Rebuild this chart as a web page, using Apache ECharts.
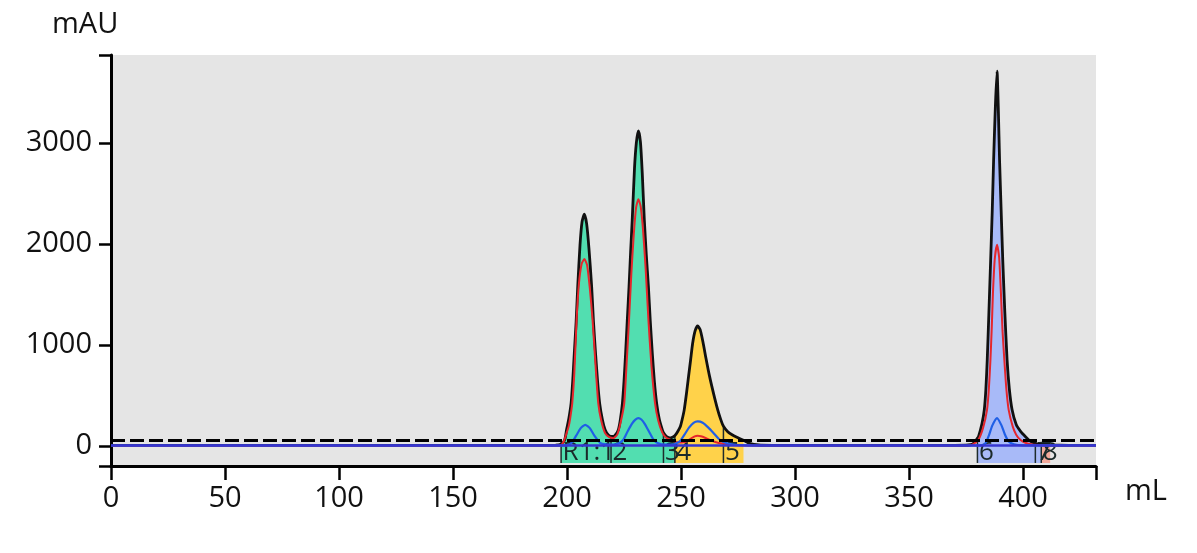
<!DOCTYPE html>
<html><head><meta charset="utf-8">
<script src="https://cdn.jsdelivr.net/npm/echarts@6/dist/echarts.min.js"></script>
<style>html,body{margin:0;padding:0;background:#fff}#c{width:1197px;height:553px}</style>
</head><body><div id="c"></div>
<script>
// ---------- DATA ----------
// UV trace 1 (black): [volume mL, absorbance mAU]
const uvBlack = [[0,5],[100,5],[180,5],[195,6],[197.4,15],[199,60],[199.8,158],[200.8,270],[201.8,423],[202.5,640],[203.2,918],[204,1230],[204.7,1577],[205.7,1990],[206.6,2220],[207.6,2294],[208.6,2200],[209.6,1960],[210.8,1577],[211.6,1230],[212.5,918],[213.4,640],[214.3,423],[215.5,260],[216.7,158],[218,110],[219.3,92],[220.3,92],[221.3,110],[222.5,158],[223.4,260],[224.3,423],[225,640],[225.7,918],[226.4,1230],[227.2,1577],[227.9,1920],[228.6,2238],[229.6,2750],[230.4,3000],[231.3,3119],[232.2,3010],[233,2700],[233.9,2238],[234.8,1880],[235.7,1577],[236.5,1240],[237.4,918],[238.3,640],[239.3,423],[240.5,260],[241.8,158],[242.3,130],[243.5,95],[244.5,82],[245.5,78],[246.5,88],[247.3,100],[248.5,140],[249.7,191],[250.5,260],[251.4,356],[252.4,520],[253.3,686],[254.2,850],[255.1,1016],[256.2,1140],[257.3,1188],[258.4,1150],[259.6,1030],[261,860],[262.5,690],[264.3,515],[266.1,356],[267.4,262],[268.6,195],[270.5,140],[272.4,109],[274.5,85],[277.4,55],[280,25],[284,8],[290,5],[370,5],[376,8],[378,20],[380,75],[380.5,92],[382,220],[383,356],[383.7,560],[384.3,851],[385,1300],[385.8,1842],[386.5,2330],[387.1,2832],[387.9,3380],[388.6,3710],[389.2,3300],[389.7,2832],[390.4,2330],[391.1,1842],[392,1330],[393,851],[394,560],[395.2,356],[397,210],[399,140],[401,92],[403,50],[405.4,25],[408,12],[411.9,7],[420,5],[432,5]];
// UV trace 2 (red)
const uvRed = [[0,0],[180,0],[197,2],[198.5,40],[199.8,125],[200.8,200],[201.5,290],[202.3,423],[203.2,720],[204.2,1248],[205.2,1600],[206.4,1800],[207.6,1849],[208.8,1790],[210,1560],[211.2,1248],[212.5,800],[213.7,423],[215,250],[216.7,125],[218.5,85],[220.3,76],[222,110],[223.5,230],[225.1,423],[226.1,800],[227.2,1248],[228.2,1700],[229.3,2100],[230.3,2360],[231.3,2442],[232.3,2370],[233.3,2150],[234.5,1750],[235.7,1248],[237,800],[238.6,423],[240,250],[241.8,130],[243.5,80],[245.2,62],[247,45],[249,32],[251,35],[252.6,45],[254.5,75],[256,94],[257.3,99],[258.7,94],[260.5,80],[263,55],[265,38],[268,22],[272,10],[278,3],[290,0],[370,0],[376,3],[378,15],[380.4,59],[382.5,180],[384.2,356],[385,560],[385.7,851],[386.3,1180],[386.8,1512],[387.6,1850],[388.6,1990],[389.5,1870],[390.3,1512],[391,1140],[391.8,851],[392.7,560],[393.7,356],[395.5,190],[397,110],[398.8,59],[401,30],[404,12],[408,5],[412,2],[432,0]];
// UV trace 3 (blue)
const uvBlue = [[0,3],[195,3],[200,6],[202,30],[204,100],[206,175],[208,208],[210,175],[212,100],[214.5,30],[217,14],[220,12],[222.5,22],[224.7,60],[226.5,140],[228.5,220],[230,260],[231.3,274],[232.6,260],[234,220],[236,140],[238,60],[240,25],[243,12],[246,12],[248,25],[249.7,50],[251.5,110],[253.5,180],[255.5,228],[257.3,241],[259.5,228],[262,180],[264.5,120],[266.5,70],[268,45],[271,20],[275,8],[290,3],[380,3],[382,8],[383.5,25],[385,100],[386.5,200],[388.6,275],[390.5,205],[392,115],[393.6,45],[396,15],[400,5],[432,3]];
// flat traces
const baseTrace = [[0,3],[432,3]];
const thresholdTrace = [[0,52],[432,52]];
// fractions
const fracStart = [197.4, 219.3, 242.3, 247.3, 268.6, 380, 405.4, 408];
const fracLabel = ['R1:1', '2', '3', '4', '5', '6', '7', '8'];
// pooled fraction ranges (fill)
const poolStart = [197.4, 247.3, 380, 408];
const poolEnd = [247.3, 277.4, 408, 411.9];
// axis ticks
const xTickStep = 50;
const yTickStep = 1000;
const xRange = [0, 432];
const yRange = [-200, 3870];

// ---------- STYLE ----------
const FONT = '"Open Sans","Noto Sans",sans-serif';
const poolColor = ['#52deb0', '#ffd24a', '#a8baf8', '#f2a89a'];
const STRIP_BASE = -170;
const SMOOTH = 0.2;

function curveAt(x) {
  for (let i = 1; i < uvBlack.length; i++) {
    const a = uvBlack[i - 1], b = uvBlack[i];
    if (x <= b[0]) { const t = (x - a[0]) / (b[0] - a[0]); return a[1] + t * (b[1] - a[1]); }
  }
  return 0;
}

const series = [];
poolStart.forEach((s, i) => {
  series.push({
    type: 'line', z: 1, silent: true, smooth: SMOOTH, showSymbol: false,
    data: uvBlack.filter(p => p[0] >= s && p[0] <= poolEnd[i]),
    lineStyle: { width: 0 },
    areaStyle: { color: poolColor[i], opacity: 1, origin: STRIP_BASE }
  });
});
series.push({
  type: 'custom', z: 3, coordinateSystem: 'cartesian2d', silent: true,
  data: fracStart.map((v, i) => [v, i]),
  encode: { x: 0, y: 1 },
  renderItem: (params, api) => {
    const v = api.value(0);
    const p0 = api.coord([v, STRIP_BASE]);
    const p1 = api.coord([v, Math.max(curveAt(v), 40)]);
    return { type: 'group', children: [
      { type: 'line', shape: { x1: p0[0], y1: p0[1], x2: p1[0], y2: p1[1] }, style: { stroke: '#1e2c2c', lineWidth: 1.5 } },
      { type: 'text', x: p0[0] + 1.5, y: p0[1] - 10, style: { text: fracLabel[params.dataIndex], font: '26px ' + FONT, fill: '#1b2a2a', align: 'left', verticalAlign: 'middle' } }
    ] };
  }
});
series.push({ type: 'line', z: 6, data: uvBlack, smooth: SMOOTH, showSymbol: false, lineStyle: { color: '#111', width: 2.8 } });
series.push({ type: 'line', z: 7, data: uvRed, smooth: SMOOTH, showSymbol: false, lineStyle: { color: '#e5262c', width: 2 } });
series.push({ type: 'line', z: 8, data: uvBlue, smooth: SMOOTH, showSymbol: false, lineStyle: { color: '#1f5fe6', width: 2.2 } });
series.push({ type: 'line', z: 9, data: baseTrace, showSymbol: false, lineStyle: { color: '#3636d2', width: 2.5 } });
series.push({ type: 'line', z: 10, data: thresholdTrace, showSymbol: false, lineStyle: { color: '#000', width: 3, type: [14, 5] } });

const chart = echarts.init(document.getElementById('c'), null, { renderer: 'canvas' });
chart.setOption({
  animation: false,
  backgroundColor: '#fff',
  grid: { left: 111, right: 101, top: 55, bottom: 87, show: true, backgroundColor: '#e5e5e5', borderWidth: 0 },
  xAxis: {
    type: 'value', min: xRange[0], max: xRange[1], interval: xTickStep,
    axisLine: { show: true, onZero: false, lineStyle: { color: '#000', width: 3 } },
    axisTick: { show: true, length: 14, lineStyle: { color: '#000', width: 2.5 } },
    axisLabel: { margin: 18, fontSize: 29, fontFamily: FONT, color: '#111', formatter: v => (v % xTickStep === 0 ? String(v) : '') },
    splitLine: { show: false }
  },
  yAxis: {
    type: 'value', min: yRange[0], max: yRange[1], splitNumber: 4,
    axisLine: { show: true, onZero: false, lineStyle: { color: '#000', width: 3 } },
    axisTick: { show: true, length: 12, lineStyle: { color: '#000', width: 2.5 } },
    axisLabel: { margin: 19, fontSize: 29, fontFamily: FONT, color: '#111', formatter: v => (v >= 0 && v % yTickStep === 0 ? String(v) : '') },
    splitLine: { show: false }
  },
  graphic: [
    { type: 'text', left: 52, top: 10, style: { text: 'mAU', font: '29px ' + FONT, fill: '#111' } },
    { type: 'text', left: 1125, top: 477, style: { text: 'mL', font: '29px ' + FONT, fill: '#111' } }
  ],
  series
});
</script></body></html>
